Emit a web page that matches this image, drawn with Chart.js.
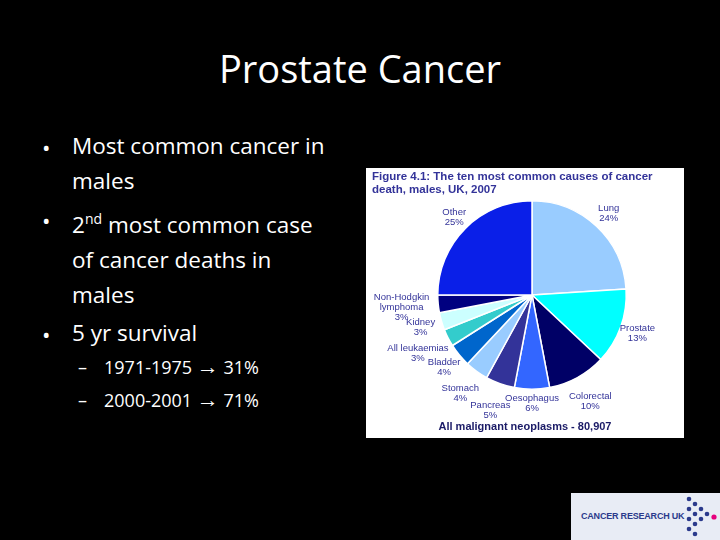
<!DOCTYPE html>
<html>
<head>
<meta charset="utf-8">
<script src="https://cdn.jsdelivr.net/npm/chart.js@4"></script>
<style>
  body { margin:0; width:720px; height:540px; background:#000; overflow:hidden; font-family:"Open Sans","Liberation Sans",sans-serif; color:#fff; position:relative; }
  h1 { position:absolute; top:42px; left:0; width:720px; text-align:center; margin:0; font-weight:normal; font-size:38px; }
  ul { position:absolute; left:42px; top:128px; margin:0; padding:0; list-style:none; font-size:22.5px; line-height:35px; }
  ul li { position:relative; padding-left:30px; width:256px; margin-bottom:3px; }
  ul li.b::before { content:"•"; position:absolute; left:0; top:2px; }
  ul ul { position:static; font-size:18px; line-height:33px; margin-top:1px; }
  ul ul li { padding-left:32px; width:250px; margin:0; }
  ul ul li::before { content:"–"; position:absolute; left:6px; }
  .ar { font-size:22px; font-weight:bold; line-height:10px; }
  .panel { position:absolute; left:366px; top:168px; width:318px; height:270px; background:#fff; }
  .ptitle { position:absolute; left:6px; top:2px; font-family:"Liberation Sans",Arial,sans-serif; font-weight:bold; font-size:11.5px; line-height:13px; color:#333399; }
  .pfoot { position:absolute; left:0; width:318px; top:252px; text-align:center; font-family:"Liberation Sans",Arial,sans-serif; font-weight:bold; font-size:11px; color:#1a1a66; }
  canvas { position:absolute; left:0; top:0; }
  .logo { position:absolute; left:571px; top:493px; width:149px; height:47px; background:#e8ecf5; }
  .logo span { position:absolute; left:10px; top:18px; font-family:"Liberation Sans",Arial,sans-serif; font-weight:bold; font-size:9px; letter-spacing:-0.2px; color:#2b3a8c; }
</style>
</head>
<body>
<h1>Prostate Cancer</h1>
<ul>
  <li class="b">Most common cancer in males</li>
  <li class="b">2<sup style="font-size:14px">nd</sup> most common case of cancer deaths in males</li>
  <li class="b">5 yr survival
    <ul>
      <li>1971-1975 <span class="ar">&#8594;</span> 31%</li>
      <li>2000-2001 <span class="ar">&#8594;</span> 71%</li>
    </ul>
  </li>
</ul>
<div class="panel">
  <canvas id="pie" width="318" height="270"></canvas>
  <div class="ptitle">Figure 4.1: The ten most common causes of cancer<br>death, males, UK, 2007</div>
  <div class="pfoot">All malignant neoplasms - 80,907</div>
</div>
<div class="logo"><span>CANCER RESEARCH UK</span><canvas id="dots" width="40" height="47" style="left:110px"></canvas></div>
<script>
const labels = ['Lung', 'Prostate', 'Colorectal', 'Oesophagus', 'Pancreas', 'Stomach', 'Bladder', 'All leukaemias', 'Kidney', 'Non-Hodgkin lymphoma', 'Other'];
const values = [24, 13, 10, 6, 5, 4, 4, 3, 3, 3, 25];
const colors = ['#99ccff', '#00ffff', '#000066', '#3366ff', '#333399', '#99ccff', '#0066cc', '#33cccc', '#ccffff', '#000080', '#0a1fe8'];
// label line splits and distance from centre (style only)
const labelLines = [['Lung'], ['Prostate'], ['Colorectal'], ['Oesophagus'], ['Pancreas'], ['Stomach'], ['Bladder'], ['All leukaemias'], ['Kidney'], ['Non-Hodgkin', 'lymphoma'], ['Other']];
const labelDist = [112, 112, 121, 108, 123, 122, 114, 128, 116, 131, 110];

const pieLabels = {
  id: 'pieLabels',
  afterDraw(chart) {
    const ctx = chart.ctx;
    ctx.save();
    ctx.font = '9.5px "Liberation Sans", Arial, sans-serif';
    ctx.fillStyle = '#333399';
    ctx.textAlign = 'center';
    ctx.textBaseline = 'middle';
    chart.getDatasetMeta(0).data.forEach((arc, i) => {
      const a = (arc.startAngle + arc.endAngle) / 2;
      const x = arc.x + Math.cos(a) * labelDist[i];
      const y = arc.y + Math.sin(a) * labelDist[i];
      const lines = labelLines[i].concat([values[i] + '%']);
      lines.forEach((t, k) => ctx.fillText(t, x, y + (k - (lines.length - 1) / 2) * 10));
    });
    ctx.restore();
  }
};

new Chart(document.getElementById('pie'), {
  type: 'pie',
  data: { labels: labels, datasets: [{ data: values, backgroundColor: colors, borderColor: '#fff', borderWidth: 1.5 }] },
  options: {
    responsive: false,
    animation: false,
    layout: { padding: { left: 71, right: 57, top: 32, bottom: 48 } },
    plugins: { legend: { display: false }, tooltip: { enabled: false } }
  },
  plugins: [pieLabels]
});

// logo dots
const d = document.getElementById('dots').getContext('2d');
[[8,6],[14,11],[8,16],[20,16],[14,21],[26,21],[8,26],[20,26],[14,31],[8,36],[14,41]].forEach(p => {
  d.fillStyle = '#2b3a8c'; d.beginPath(); d.arc(p[0], p[1], 2.3, 0, 7); d.fill();
});
d.fillStyle = '#e6007e'; d.beginPath(); d.arc(33, 24, 2.6, 0, 7); d.fill();
</script>
</body>
</html>
